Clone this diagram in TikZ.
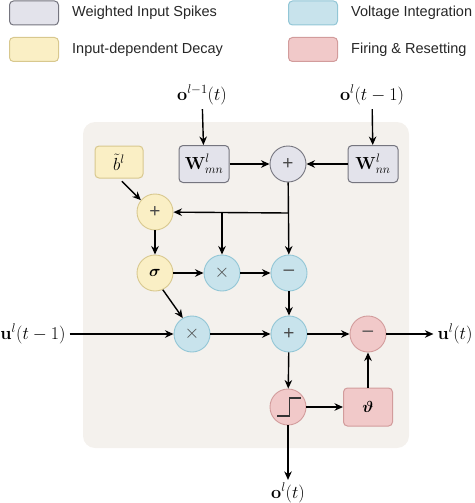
\documentclass[tikz,border=0pt]{standalone}
\usepackage{fix-cm}
\usepackage{amsmath,bm}
\usepackage[no-math]{fontspec}
\newfontfamily\legfont{Liberation Sans}
\usetikzlibrary{arrows.meta}
\definecolor{panel}{HTML}{F4F1ED}
\definecolor{gfill}{HTML}{E3E3EB}
\definecolor{gdraw}{HTML}{75757F}
\definecolor{yfill}{HTML}{FAEFC5}
\definecolor{ydraw}{HTML}{D8C88E}
\definecolor{bfill}{HTML}{C8E3EC}
\definecolor{bdraw}{HTML}{92C6D6}
\definecolor{rfill}{HTML}{F1C9C9}
\definecolor{rdraw}{HTML}{D29C9C}
\definecolor{opcol}{HTML}{4A4A4A}
\tikzset{
 arr/.style={line width=1.4pt,-{Stealth[length=8.5pt,width=7.5pt]}},
 opc/.style={circle,minimum size=36pt,inner sep=0pt,line width=0.9pt,text=opcol,font=\legfont\fontsize{19}{20}\selectfont},
 gcirc/.style={opc,fill=gfill,draw=gdraw},
 ycirc/.style={opc,fill=yfill,draw=ydraw},
 bcirc/.style={opc,fill=bfill,draw=bdraw},
 rcirc/.style={opc,fill=rfill,draw=rdraw},
 rbox/.style={rectangle,rounded corners=4pt,inner sep=0pt,line width=1pt,font=\fontsize{17.5}{20}\selectfont},
 legbox/.style={rectangle,rounded corners=4pt,line width=1pt,minimum width=49pt,minimum height=24pt,inner sep=0pt},
 legtxt/.style={anchor=west,inner sep=0pt,font=\legfont\fontsize{14.5}{16}\selectfont,text=black!85},
 lab/.style={inner sep=1pt,font=\fontsize{18}{20}\selectfont},
}
\begin{document}
\begin{tikzpicture}[x=1pt,y=-1pt]
\useasboundingbox (0,0) rectangle (474,503);
% legend
\node[legbox,fill=gfill,draw=gdraw] (lg1) at (34,13) {};
\node[legtxt] (lt1) at (72,13) {Weighted Input Spikes};
\node[legbox,fill=yfill,draw=ydraw] (lg2) at (34,49.5) {};
\node[legtxt] (lt2) at (72,49.5) {Input-dependent Decay};
\node[legbox,fill=bfill,draw=bdraw] (lg3) at (313,13) {};
\node[legtxt] (lt3) at (351,13) {Voltage Integration};
\node[legbox,fill=rfill,draw=rdraw] (lg4) at (313,49.5) {};
\node[legtxt] (lt4) at (351,49.5) {Firing \& Resetting};
% panel
\fill[panel,rounded corners=12pt] (83,122) rectangle (409,448);
% labels
\node[lab] (oin) at (202,95) {$\mathbf{o}^{l-1}(t)$};
\node[lab] (orec) at (372,95) {$\mathbf{o}^{l}(t-1)$};
\node[lab] (uin) at (33,334) {$\mathbf{u}^{l}(t-1)$};
\node[lab] (uout) at (455,334) {$\mathbf{u}^{l}(t)$};
\node[lab] (oout) at (288,493) {$\mathbf{o}^{l}(t)$};
% nodes
\node[rbox,fill=gfill,draw=gdraw,minimum width=50pt,minimum height=37pt] (wmn) at (204,164) {$\mathbf{W}^{l}_{mn}$};
\node[gcirc] (p1) at (288,164) {+};
\node[rbox,fill=gfill,draw=gdraw,minimum width=50pt,minimum height=37pt] (wnn) at (373,164) {$\mathbf{W}^{l}_{nn}$};
\node[rbox,fill=yfill,draw=ydraw,minimum width=48pt,minimum height=32pt] (bt) at (119,162) {$\tilde{b}^{l}$};
\node[ycirc] (p2) at (155,212) {+};
\node[ycirc,font=\fontsize{16}{18}\selectfont,text=black] (sg) at (155,273) {$\bm{\sigma}$};
\node[bcirc] (t1) at (222,273) {$\times$};
\node[bcirc] (m1) at (289,273) {\raisebox{1pt}{\textendash}};
\node[bcirc] (t2) at (192,334) {$\times$};
\node[bcirc] (p3) at (289,334) {+};
\node[rcirc] (mr) at (368,334) {\raisebox{1pt}{\textendash}};
\node[rcirc] (st) at (288,407) {};
\draw[line width=1.1pt,black!80] (277,416) -- (289.5,416) -- (289.5,398) -- (301,398);
\node[rbox,fill=rfill,draw=rdraw,minimum width=49pt,minimum height=38pt,font=\fontsize{16}{18}\selectfont] (th) at (368,407) {$\bm{\vartheta}$};
% junctions
\coordinate (j1) at (288,213);
\coordinate (j2) at (222,213);
% connectors
\draw[arr,shorten <=3pt] (oin) -- (wmn);
\draw[arr,shorten <=3pt] (orec) -- (wnn);
\draw[arr] (wmn) -- (p1);
\draw[arr] (wnn) -- (p1);
\draw[arr] (p1) -- (m1);
\draw[arr] (j1) -- (p2);
\draw[arr] (j2) -- (t1);
\draw[arr,shorten <=4pt] (bt.south) -- (p2.140);
\draw[arr] (p2) -- (sg);
\draw[arr] (sg) -- (t1);
\draw[arr] (t1) -- (m1);
\draw[arr] (sg.-65) -- (t2.120);
\draw[arr,shorten <=3pt] (uin) -- (t2);
\draw[arr] (t2) -- (p3);
\draw[arr] (m1) -- (p3);
\draw[arr] (p3) -- (mr);
\draw[arr,shorten >=3pt] (mr) -- (uout);
\draw[arr] (p3) -- (st);
\draw[arr] (st) -- (th);
\draw[arr] (th) -- (mr);
\draw[arr,shorten >=2pt] (st) -- (oout);
\end{tikzpicture}
\end{document}
